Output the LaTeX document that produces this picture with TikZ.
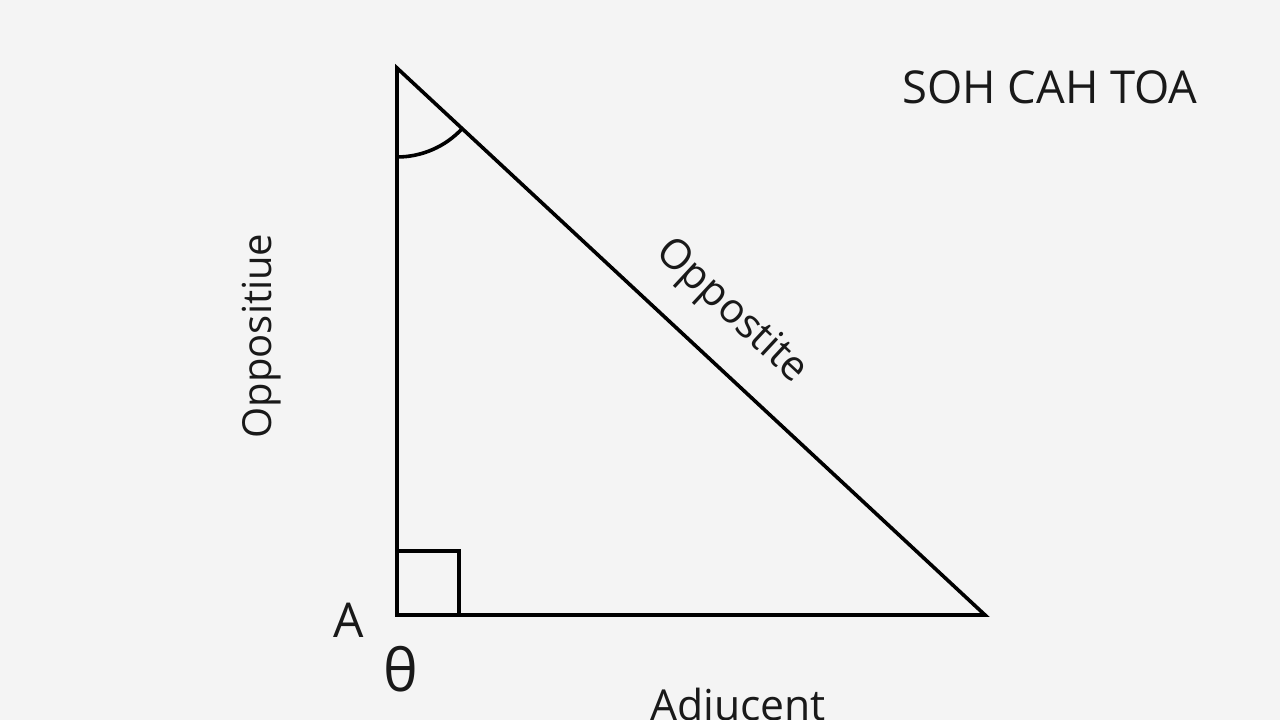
\documentclass[tikz,border=0pt]{standalone}
\usepackage{fontspec}
\setmainfont{Open Sans}
\begin{document}
\begin{tikzpicture}[x=0.75pt,y=-0.75pt,
  edge/.style={line width=2.7pt,line join=miter},
  lbl/.style={inner sep=0pt,text=black!90}]
\fill[black!4.5] (0,0) rectangle (1280,720);
\useasboundingbox (0,0) rectangle (1280,720);
\coordinate (T) at (397,68);
\coordinate (B) at (397,615);
\coordinate (R) at (985,615);
\draw[edge] (T) -- (B) -- (R) -- cycle;
\coordinate (S1) at (397,551);
\coordinate (S2) at (459,551);
\coordinate (S3) at (459,615);
\draw[edge] (S1) -- (S2) -- (S3);
\draw[edge] ([shift={(90:89)}]T) arc[start angle=90,end angle=42.9,radius=89];
\node[lbl,font=\fontsize{34}{40}\selectfont] (soh) at (1050,87) {SOH CAH TOA};
\node[lbl,font=\fontsize{30}{36}\selectfont,rotate=90] (opp) at (262,336) {Oppositiue};
\node[lbl,font=\fontsize{31}{36}\selectfont,rotate=-42.9] (hyp) at (731,312) {Oppostite};
\node[lbl,font=\fontsize{32}{38}\selectfont,anchor=base] (adj) at (738,720) {Adiucent};
\node[lbl,font=\fontsize{36}{40}\selectfont,anchor=base] (A) at (349,637) {A};
\node[lbl,font=\fontsize{44}{48}\selectfont,anchor=base] (th) at (401,691) {θ};
\end{tikzpicture}
\end{document}
